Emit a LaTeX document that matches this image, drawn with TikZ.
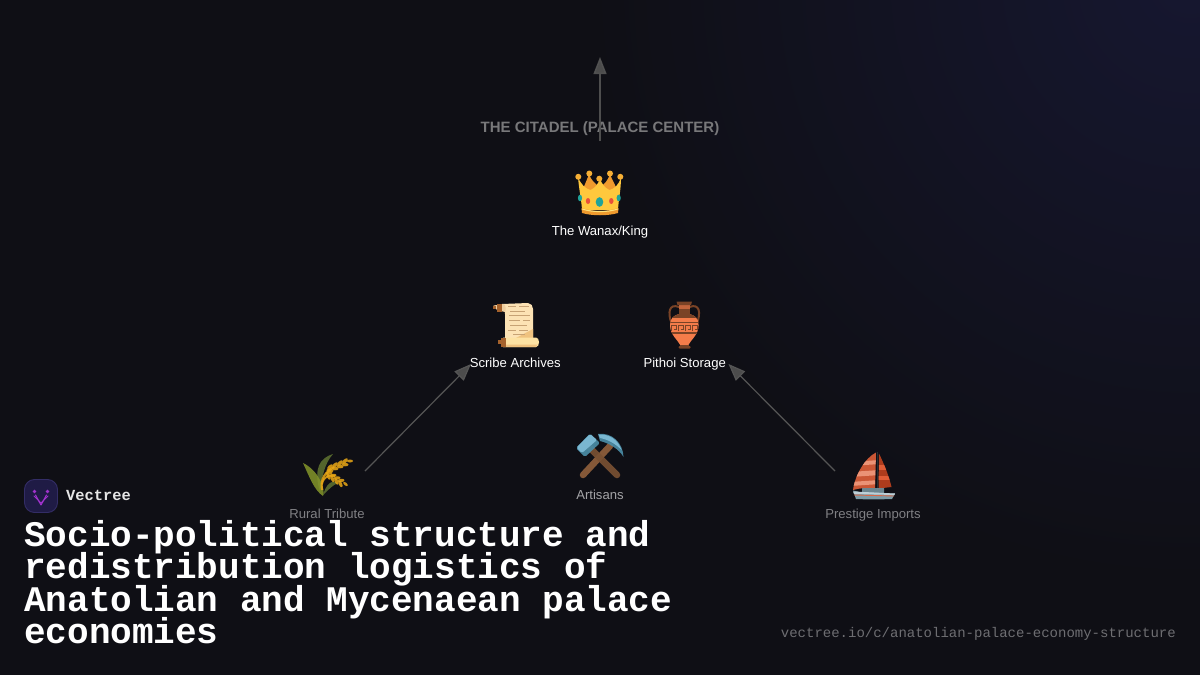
\documentclass[tikz,border=0pt]{standalone}
\usepackage{fontspec}
\usetikzlibrary{arrows.meta}
\setmainfont{Liberation Sans}
\newfontfamily\monofam{Liberation Mono}
\definecolor{bgbase}{HTML}{0F0F15}
\definecolor{bgglow}{HTML}{161730}
\definecolor{linkgray}{HTML}{555555}
\definecolor{citadelgray}{HTML}{78787A}
\definecolor{footgray}{HTML}{6E6E72}
\definecolor{dimlabel}{HTML}{808084}
\definecolor{midlabel}{HTML}{A3A3A6}
\definecolor{gold}{HTML}{FFC83D}
\definecolor{goldb}{HTML}{EF9A2E}
\definecolor{goldc}{HTML}{FFE27A}
\definecolor{gemteal}{HTML}{1FA39A}
\definecolor{gemred}{HTML}{E8503A}
\definecolor{paper}{HTML}{FCE2B4}
\definecolor{paperd}{HTML}{EFC27F}
\definecolor{knob}{HTML}{A5622C}
\definecolor{inkline}{HTML}{C7A274}
\definecolor{vaseo}{HTML}{F47C4A}
\definecolor{vased}{HTML}{7A4326}
\definecolor{wheat}{HTML}{E9A716}
\definecolor{leafa}{HTML}{84952A}
\definecolor{leafb}{HTML}{5F7431}
\definecolor{wood}{HTML}{8E5F3C}
\definecolor{steel}{HTML}{7FBCD6}
\definecolor{steeld}{HTML}{4A8CA6}
\definecolor{sailr}{HTML}{E5613A}
\definecolor{sailrd}{HTML}{C4431F}
\definecolor{sailpale}{HTML}{EF9C7F}
\definecolor{hull}{HTML}{8DB0BC}
\definecolor{logofill}{HTML}{1F1B45}
\definecolor{logoedge}{HTML}{332D66}
\definecolor{logomark}{HTML}{A032CC}
\tikzset{
  x=1pt,y=-1pt,
  link/.style={draw=linkgray,line width=1.4pt,-{Triangle[length=17pt,width=13pt,fill=linkgray!105]}},
  iconlabel/.style={font=\fontsize{13.1}{15}\selectfont,inner sep=0pt,anchor=base,text=white},
}
\begin{document}
\begin{tikzpicture}
\useasboundingbox (0,0) rectangle (1200,675);
% background
\begin{scope}
\clip (0,0) rectangle (1200,675);
\fill[bgbase] (0,0) rectangle (1200,675);
\shade[inner color=bgglow,outer color=bgbase] (1190,-20) circle [radius=600];
\end{scope}
% section title
\node[font=\fontsize{15}{18}\selectfont\bfseries,text=citadelgray,inner sep=0pt,anchor=base] (citadel) at (600,132) {THE CITADEL (PALACE CENTER)};
% labels
\node[iconlabel] (wanax) at (600,235) {The Wanax/King};
\node[iconlabel] (scribe) at (515.3,367) {Scribe Archives};
\node[iconlabel] (pithoi) at (684.7,367) {Pithoi Storage};
\node[iconlabel,text=midlabel] (artisans) at (600,499) {Artisans};
\node[iconlabel,text=dimlabel] (rural) at (327,518) {Rural Tribute};
\node[iconlabel,text=dimlabel] (prestige) at (873,518) {Prestige Imports};
% connector ends
\coordinate (citadelTail) at (600,141);
\coordinate (citadelHead) at (600,57);
\coordinate (ruralOut) at (365,471);
\coordinate (prestigeOut) at (835,471);
\coordinate (scribeIn) at (471,364);
\coordinate (pithoiIn) at (728.5,364);
\draw[link,draw opacity=.9] (citadelTail) -- (citadelHead);
\draw[link,line width=1.2pt] (ruralOut) -- (scribeIn);
\draw[link,line width=1.2pt] (prestigeOut) -- (pithoiIn);
% crown
\begin{scope}
\fill[goldb] (589,174) .. controls (587,180) and (584,186) .. (581,194) -- (619,194) .. controls (616,186) and (612,180) .. (610,174) .. controls (608,180) and (605,184) .. (600,187) .. controls (595,184) and (591,180) .. (589,174) -- cycle;
\fill[gold] (578,177) .. controls (579,190) and (581.5,200) .. (582,210) -- (618,210) .. controls (618.5,200) and (621,190) .. (621,177) .. controls (619,185) and (614,189) .. (609.5,190) .. controls (605,188) and (602,184) .. (600,179) .. controls (598,184) and (595,188) .. (590.5,190) .. controls (586,189) and (581,185) .. (578,177) -- cycle;
\fill[goldb] (581.5,208) .. controls (593,212) and (607,212) .. (618.5,208) -- (618,213) .. controls (608,216) and (592,216) .. (582,213) -- cycle;
\draw[goldc,line width=1pt] (582,209) .. controls (593,212.5) and (607,212.5) .. (618,209);
\foreach \px/\py in {578.3/176.8,589.3/173.5,599.3/178.7,610/173.5,620.3/176.8}
  \fill[goldb!55!gold] (\px,\py) circle [radius=3];
\fill[gemteal] (599.5,202) ellipse [x radius=3.8,y radius=4.8];
\fill[gemred] (588,201) ellipse [x radius=2.2,y radius=3];
\fill[gemred] (611.3,201) ellipse [x radius=2.2,y radius=3];
\fill[gemteal] (580,198) ellipse [x radius=2.1,y radius=3.3];
\fill[gemteal] (618.7,198) ellipse [x radius=2.1,y radius=3.3];
\end{scope}
% scroll
\begin{scope}
\fill[paper] (502,304) -- (528,303) .. controls (531,303) and (533,306) .. (533,309) -- (533,340) -- (505,340) -- (505,314) .. controls (505,310) and (503,307) .. (502,304) -- cycle;
\fill[paperd] (516,338) -- (533,329) -- (533,340) -- cycle;
\fill[paper!85!knob] (493.5,305.5) -- (504,304) .. controls (506,306) and (506,310) .. (505,312) -- (497,310) -- cycle;
\fill[knob] (493,305.5) rectangle (496,309);
\fill[knob] (497,304) rectangle (502,312);
\foreach \ya/\xa/\xb in {306/508/516,306.5/519/529,311/510/525,315/509/530,320/509/520,320/523/530,325/510/527,330/508/516,330/519/528,334/513/525}
  \draw[inkline,line width=.8pt] (\xa,\ya) -- (\xb,\ya);
\fill[paper!70!goldc] (503,337.5) -- (536,337.5) .. controls (540,337.5) and (540,347) .. (536,347) -- (503,347) -- cycle;
\fill[paperd] (503,344.5) -- (537.5,344.5) .. controls (537,346) and (536.5,347) .. (536,347) -- (503,347) -- cycle;
\fill[knob] (498,340) rectangle (501,344);
\fill[knob] (501,337.5) rectangle (506,347);
\end{scope}
% vase
\begin{scope}
\draw[vased,line width=2pt] (679,307) .. controls (669,303) and (667.5,313) .. (671.5,323);
\draw[vased,line width=2pt] (689.6,307) .. controls (699.6,303) and (701,313) .. (697,323);
\fill[vaseo!60!vased] (679,304) rectangle (689.6,315);
\fill[vased] (679,309) rectangle (689.6,315);
\fill[vased] (676.5,301.5) -- (692,301.5) -- (691,305) -- (677.5,305) -- cycle;
\begin{scope}
\clip (679,314) .. controls (674,315.5) and (670,318) .. (670,325) .. controls (670,335) and (678,340) .. (680.5,345.5) -- (688,345.5) .. controls (690.6,340) and (698.6,335) .. (698.6,325) .. controls (698.6,318) and (694.6,315.5) .. (689.6,314) -- cycle;
\fill[vaseo] (665,312) rectangle (704,347);
\fill[vased] (665,314) rectangle (704,318);
\fill[vased] (665,321.5) rectangle (704,323);
\fill[vased] (665,332) rectangle (704,333.5);
\foreach \kx in {671,678,685,692}
  \draw[vased,line width=1pt] (\kx,331) -- (\kx,325.5) -- (\kx+5,325.5) -- (\kx+5,329.5) -- (\kx+2.5,329.5);
\end{scope}
\fill[vased] (680,345) rectangle (689,347);
\fill[vased,rounded corners=1pt] (678.5,346) rectangle (690.5,348.5);
\end{scope}
% wheat
\begin{scope}[opacity=.85]
\fill[leafb] (333,454) .. controls (320,458) and (313,468) .. (320,492) .. controls (322,478) and (324,464) .. (333,454) -- cycle;
\fill[leafb] (338,483) .. controls (331,479) and (326,485) .. (323,495) .. controls (329,489) and (333,485) .. (338,483) -- cycle;
\fill[leafa] (303,463) .. controls (309,476) and (314,490) .. (323,496) .. controls (326,489) and (318,470) .. (303,463) -- cycle;
\draw[wheat,line width=2.2pt] (322,490) .. controls (320,478) and (326,472) .. (334,467);
\draw[wheat,line width=1.8pt] (322,484) .. controls (324,476) and (330,474) .. (335,476);
\foreach \gx/\gy in {330/469,335/467,340/465,345/463}{
  \fill[wheat,rotate around={42:(\gx,\gy-2)}] (\gx,\gy-2) ellipse [x radius=3.6,y radius=1.8];
  \fill[wheat,rotate around={-5:(\gx,\gy+1.5)}] (\gx,\gy+1.5) ellipse [x radius=3.6,y radius=1.8];
}
\fill[wheat] (350,461) ellipse [x radius=3,y radius=1.5];
\foreach \gx/\gy in {329/475,333/477.5,337/480,341/482.5}{
  \fill[wheat,rotate around={5:(\gx,\gy-2)}] (\gx,\gy-2) ellipse [x radius=3.5,y radius=1.7];
  \fill[wheat,rotate around={-65:(\gx-.5,\gy+1.5)}] (\gx-.5,\gy+1.5) ellipse [x radius=3.5,y radius=1.7];
}
\fill[wheat,rotate around={-40:(345.5,484)}] (345.5,484) ellipse [x radius=2.8,y radius=1.4];
\end{scope}
% hammer and pick
\begin{scope}[opacity=.92]
\draw[wood,line width=6.5pt,line cap=round] (583,475) -- (610,446);
\draw[wood!85!black,line width=6.5pt,line cap=round] (617,475) -- (590,448);
\fill[steeld,rounded corners=1.5pt] (576,448) -- (590,433.5) -- (600,443) -- (585,457) -- cycle;
\fill[steel,rounded corners=1.5pt] (576.5,447.5) -- (590,434) -- (597,440) -- (582,453) -- cycle;
\fill[steeld] (598,434) .. controls (612,432) and (623,443) .. (623.5,457) .. controls (619,449) and (609,443) .. (600,441) -- cycle;
\fill[steel] (598.5,434.5) .. controls (610,434) and (618,440) .. (621.5,450) .. controls (616,444) and (608,439.5) .. (600,438) -- cycle;
\end{scope}
% boat
\begin{scope}[opacity=.88]
\begin{scope}
\clip (876,452.5) .. controls (865,458) and (855,475) .. (853,490) .. controls (860,488) and (868,487.5) .. (875,488) -- cycle;
\fill[sailr] (850,450) rectangle (880,492);
\foreach \sy/\st in {461/4,471/5,481/4}
  \fill[sailpale] (850,\sy+1) -- (880,\sy-1) -- (880,\sy-1+\st) -- (850,\sy+1+\st) -- cycle;
\end{scope}
\begin{scope}
\clip (879,453.5) .. controls (884,464) and (889,476) .. (891.5,487) -- (878.5,488.5) -- cycle;
\fill[sailrd] (875,450) rectangle (895,490);
\fill[sailr] (875,465) rectangle (895,470);
\fill[sailr] (875,476) rectangle (895,480);
\end{scope}
\draw[black!70!hull,line width=1.4pt] (877.5,452) -- (877.5,490);
\fill[hull!85!black,rounded corners=.5pt] (862,488) rectangle (884,493);
\fill[hull] (853,490.5) -- (860,492) -- (895,493.5) -- (892,499) .. controls (880,499.5) and (866,499.5) .. (856,499) -- cycle;
\fill[hull!50!white] (853,491.5) -- (895,493.5) -- (894.5,495) -- (854,494) -- cycle;
\draw[sailr,line width=.9pt] (854,495) -- (894,496);
\end{scope}
% logo
\node[draw=logoedge,fill=logofill,rounded corners=10pt,minimum width=33pt,minimum height=33pt,line width=.9pt,inner sep=0pt] (logo) at (41,496) {};
\draw[logomark,line width=1.1pt,line cap=round,line join=round] (41,505) -- (35.5,495) (41,505) -- (46.5,495);
\draw[logomark,line width=.8pt,line cap=round] (41,503) -- (34,496) (41,503) -- (48,496);
\fill[logomark] (34.5,491.5) circle [radius=1.8];
\fill[logomark] (47.5,491.5) circle [radius=1.8];
% brand, title, url
\node[anchor=base west,inner sep=0pt,font=\monofam\bfseries\fontsize{15.4}{18}\selectfont,text=white!90!black] (brand) at (66,500.5) {Vectree};
\node[anchor=north west,inner sep=0pt,align=left,text=white,font=\monofam\bfseries\fontsize{36}{32.4}\selectfont,execute at begin node={\lineskiplimit=-100pt\relax}] (headline) at (24,520) {Socio-political structure and\\redistribution logistics of\\Anatolian and Mycenaean palace\\economies};
\node[anchor=base east,inner sep=0pt,font=\monofam\fontsize{14}{16}\selectfont,text=footgray] (url) at (1176,637) {vectree.io/c/anatolian-palace-economy-structure};
\end{tikzpicture}
\end{document}
